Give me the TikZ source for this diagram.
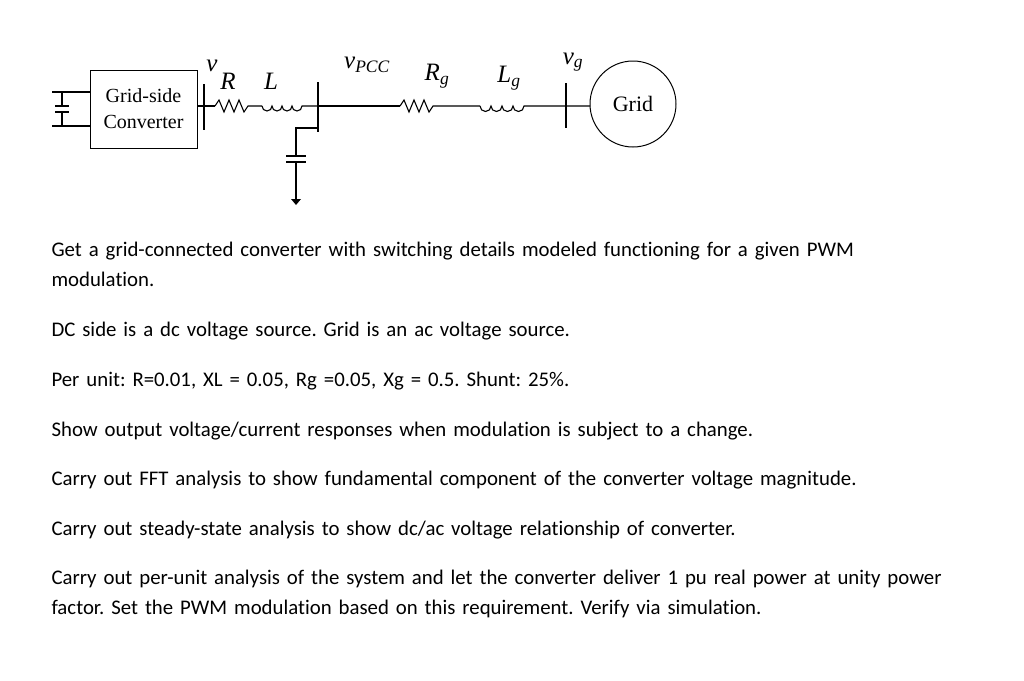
\documentclass[tikz,border=0pt]{standalone}
\usepackage{fontspec}
\setmainfont{Carlito}[Ligatures=NoCommon]
\newfontfamily\ser{Liberation Serif}
\frenchspacing
\begin{document}
\begin{tikzpicture}[x=1pt,y=-1pt,line width=1.1pt,
  lab/.style={font=\ser\itshape\fontsize{25}{25}\selectfont,inner sep=0},
  para/.style={anchor=base west,inner sep=0,font=\fontsize{20.8}{30}\selectfont,text width=950pt,align=left}]
\useasboundingbox (0,0) rectangle (1024,680);
% converter
\node[draw,minimum width=107pt,minimum height=78pt,font=\ser\fontsize{20}{26}\selectfont,align=center,line width=1pt] (conv) at (143.5,109) {Grid-side\\Converter};
% dc cap
\coordinate (t1) at (90,92); \coordinate (t0) at (52,92);
\coordinate (b1) at (90,126); \coordinate (b0) at (52,126);
\draw (t1) -- (t0); \draw (b1) -- (b0);
\draw (62,92) -- (62,106) (62,112) -- (62,126);
\draw (55,106) -- (69,106) (55,112) -- (69,112);
% bus v
\coordinate (v1) at (204,84); \coordinate (v2) at (204,130);
\draw (v1) -- (v2);
\draw (197,106) -- (215,106);
\draw (215,106) -- (219,100) -- (224,112) -- (229,100) -- (234,112) -- (239,100) -- (244,112) -- (248,106) -- (262,106);
\draw (262,106) arc (180:0:5) arc (180:0:5) arc (180:0:5) arc (180:0:5) -- (318,106);
% pcc bus
\coordinate (p1) at (318,82); \coordinate (p2) at (318,132);
\draw (p1) -- (p2);
\draw (318,128) -- (296,128) -- (296,156);
\draw (286,156) -- (306,156) (286,162) -- (306,162);
\draw (296,162) -- (296,200);
\fill (291,199) -- (301,199) -- (296,205) -- cycle;
\draw (318,106) -- (400,106);
\draw (400,106) -- (404,100) -- (409,112) -- (414,100) -- (419,112) -- (424,100) -- (429,112) -- (433,106) -- (480,106);
\draw (480,106) arc (180:0:5.5) arc (180:0:5.5) arc (180:0:5.5) arc (180:0:5.5) -- (590,106);
\coordinate (g1) at (566,83); \coordinate (g2) at (566,128);
\draw (g1) -- (g2);
\node[draw,circle,minimum size=86pt,line width=1pt,font=\ser\fontsize{22}{22}\selectfont] (grid) at (633,104) {Grid};
% labels
\node[lab] at (212,66) {v};
\node[lab] at (228,81) {R};
\node[lab] at (271,81) {L};
\node[lab] at (367,65) {v\textsubscript{\itshape PCC}};
\node[lab] at (437,76) {R\textsubscript{g}};
\node[lab] at (509,78) {L\textsubscript{g}};
\node[lab] at (573,62) {v\textsubscript{g}};
% text
\node[para] (x1) at (51,256) {Get a grid-connected converter with switching details modeled functioning for a given PWM\\modulation.};
\node[para] (x2) at (51,336) {DC side is a dc voltage source. Grid is an ac voltage source.};
\node[para] (x3) at (51,386) {Per unit: R=0.01, XL = 0.05, Rg =0.05, Xg = 0.5. Shunt: 25\%.};
\node[para] (x4) at (51,436) {Show output voltage/current responses when modulation is subject to a change.};
\node[para] (x5) at (51,485) {Carry out FFT analysis to show fundamental component of the converter voltage magnitude.};
\node[para] (x6) at (51,535) {Carry out steady-state analysis to show dc/ac voltage relationship of converter.};
\node[para] (x7) at (51,584) {Carry out per-unit analysis of the system and let the converter deliver 1 pu real power at unity power\\factor. Set the PWM modulation based on this requirement. Verify via simulation.};
\end{tikzpicture}
\end{document}
